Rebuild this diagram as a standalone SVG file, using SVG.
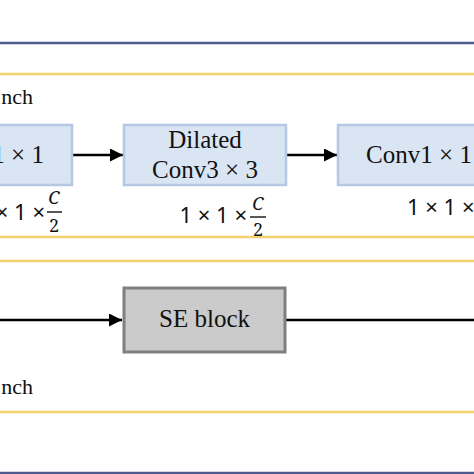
<svg xmlns="http://www.w3.org/2000/svg" width="474" height="474" viewBox="0 0 474 474">
<defs>
<marker id="arr" markerUnits="userSpaceOnUse" markerWidth="14" markerHeight="14" refX="13" refY="6.5" orient="auto">
<path d="M0,0 L13,6.5 L0,13 Z" fill="#000"/>
</marker>
<style>
.blue{stroke:#4a5b8c;stroke-width:2.5;fill:none}
.gold{stroke:#f4d36e;stroke-width:2.5;fill:none}
.conv{fill:#dae5f4;stroke:#b4c8e4;stroke-width:2.5}
.se{fill:#cbcbcb;stroke:#7f7f7f;stroke-width:3}
.lbl{font-family:"Liberation Serif","Times New Roman",serif;font-size:25px;fill:#111;text-anchor:middle}
.br{font-family:"Liberation Serif","Times New Roman",serif;font-size:22px;fill:#111;text-anchor:end}
.dim{font-family:"Noto Sans","DejaVu Sans",sans-serif;font-size:22px;fill:#111}
.frac{font-family:"Noto Serif","DejaVu Serif","Liberation Serif",serif;font-size:18px;fill:#111;text-anchor:middle}
.edge{stroke:#000;stroke-width:2.5;fill:none}
</style>
</defs>
<rect width="474" height="474" fill="#fff"/>
<g id="frame">
<line class="blue" x1="0" y1="43" x2="474" y2="43"/>
<line class="blue" x1="0" y1="473" x2="474" y2="473"/>
<line class="gold" x1="0" y1="74" x2="474" y2="74"/>
<line class="gold" x1="0" y1="237" x2="474" y2="237"/>
<line class="gold" x1="0" y1="261" x2="474" y2="261"/>
<line class="gold" x1="0" y1="412" x2="474" y2="412"/>
<text class="br" x="33" y="104">nch</text>
<text class="br" x="33" y="394">nch</text>
</g>
<g id="connectors">
<line class="edge" x1="72" y1="155" x2="123" y2="155" marker-end="url(#arr)"/>
<line class="edge" x1="286" y1="155" x2="337" y2="155" marker-end="url(#arr)"/>
<line class="edge" x1="0" y1="320" x2="122" y2="320" marker-end="url(#arr)"/>
<line class="edge" x1="285" y1="320" x2="474" y2="320"/>
</g>
<g id="conv1">
<rect class="conv" x="-90" y="125" width="162" height="60"/>
<text class="lbl" x="-9" y="163">Conv1 × 1</text>
<text class="dim" x="45" y="220" text-anchor="end">1 × 1 ×</text>
<text class="frac" x="54" y="204" font-style="italic">C</text>
<line x1="47" y1="212" x2="62" y2="212" stroke="#111" stroke-width="1.4"/>
<text class="frac" x="54" y="232">2</text>
</g>
<g id="dilated">
<rect class="conv" x="124" y="125" width="162" height="60"/>
<text class="lbl" x="205" y="148">Dilated</text>
<text class="lbl" x="205" y="178">Conv3 × 3</text>
<text class="dim" x="247" y="223" text-anchor="end">1 × 1 ×</text>
<text class="frac" x="258" y="210" font-style="italic">C</text>
<line x1="250" y1="217" x2="266" y2="217" stroke="#111" stroke-width="1.4"/>
<text class="frac" x="258" y="236">2</text>
</g>
<g id="conv2">
<rect class="conv" x="338" y="125" width="162" height="60"/>
<text class="lbl" x="419" y="163">Conv1 × 1</text>
<text class="dim" x="407" y="215">1 × 1 ×</text>
</g>
<g id="se">
<rect class="se" x="124" y="288" width="161" height="64"/>
<text class="lbl" x="204.5" y="327">SE block</text>
</g>
</svg>
